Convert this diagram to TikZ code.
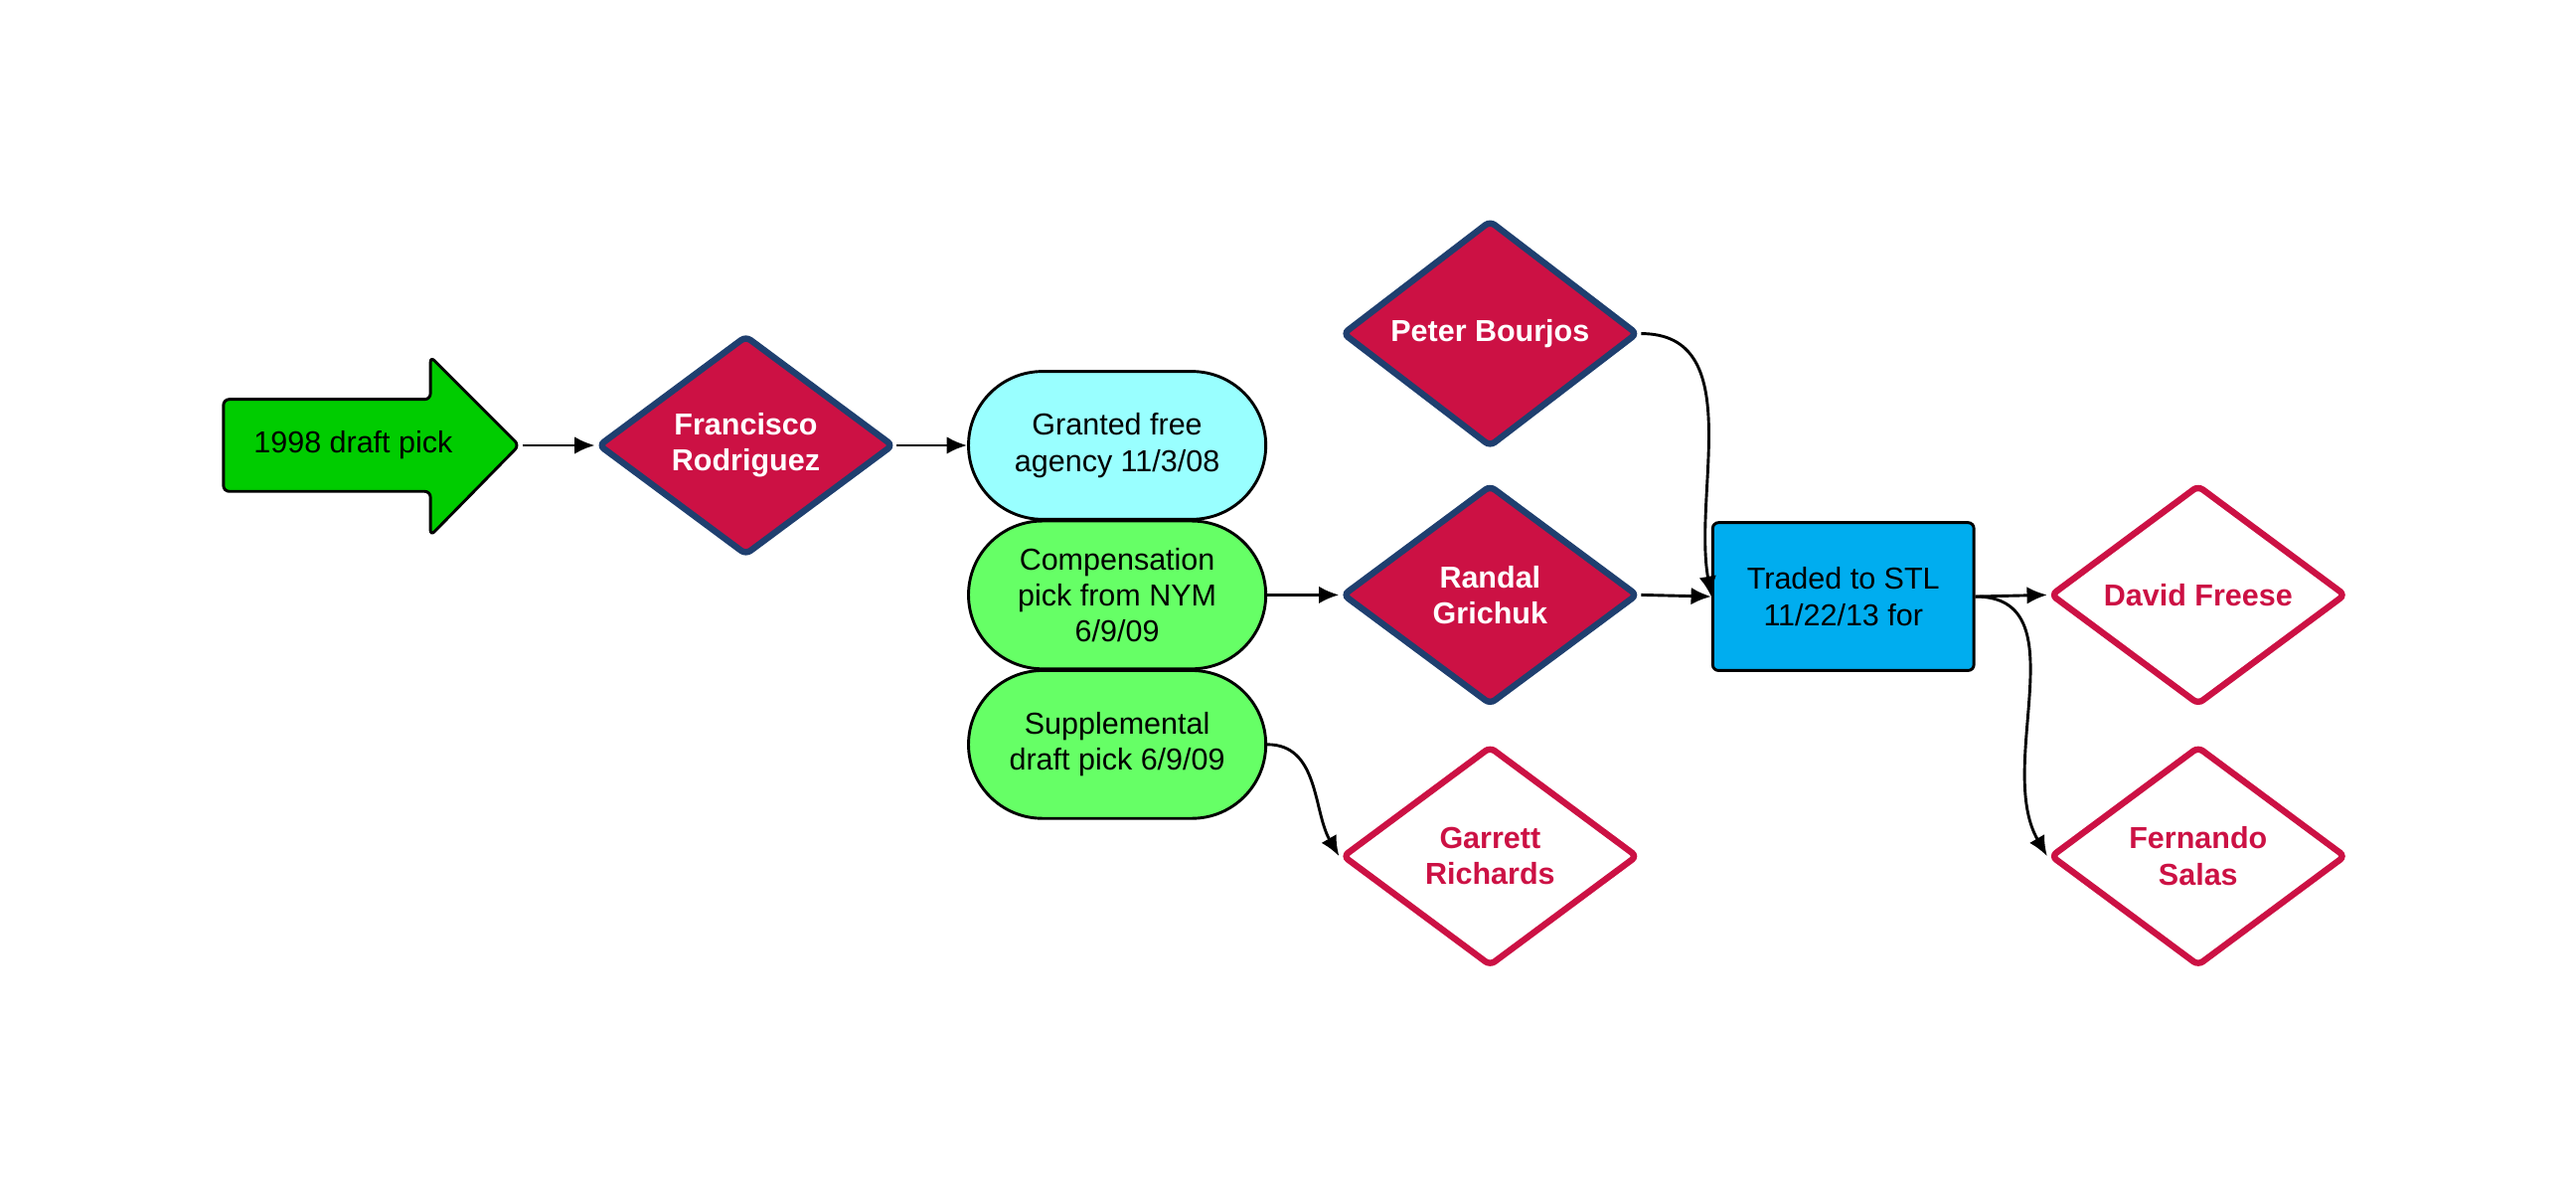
\documentclass[tikz,border=0pt]{standalone}
\usepackage{fontspec}
\setmainfont{Liberation Sans}
\usetikzlibrary{shapes.geometric,arrows.meta}
\definecolor{dred}{HTML}{CC1144}
\definecolor{dblue}{HTML}{1F3F6F}
\definecolor{lgreen}{HTML}{66FF66}
\definecolor{lcyan}{HTML}{99FFFF}
\definecolor{agreen}{HTML}{00CC00}
\begin{document}
\begin{tikzpicture}[x=0.02cm,y=-0.02cm,
  every node/.style={font=\fontsize{10.5}{12.5}\selectfont, align=center},
  dia/.style={diamond, minimum width=3.6cm, minimum height=2.68cm, inner sep=0pt, line width=2.2pt, rounded corners=2pt},
  fill dia/.style={dia, fill=dred, draw=dblue, text=white, font=\fontsize{10.5}{12.5}\selectfont\bfseries},
  open dia/.style={dia, fill=white, draw=dred, text=dred, font=\fontsize{10.5}{12.5}\selectfont\bfseries},
  pill/.style={rectangle, rounded corners=0.9cm, minimum width=3.62cm, minimum height=1.8cm, draw=black, line width=1pt},
  conn/.style={line width=1pt, -{Latex[length=7pt,width=6pt]}}]
\useasboundingbox (0,0) rectangle (1568,726);
\filldraw[fill=agreen, draw=black, line width=1pt, rounded corners=2pt]
  (136,243) -- (262,243) -- (262,217) -- (316,271) -- (262,326) -- (262,299) -- (136,299) -- cycle;
\node (pick) at (215,271) {1998 draft pick};
\coordinate (tip) at (318,271);
\node[fill dia] (fr) at (454,271) {Francisco\\Rodriguez};
\node[pill, fill=lcyan] (gfa) at (680,271) {Granted free\\agency 11/3/08};
\node[pill, fill=lgreen] (comp) at (680,362) {Compensation\\pick from NYM\\6/9/09};
\node[pill, fill=lgreen] (supp) at (680,453) {Supplemental\\draft pick 6/9/09};
\node[fill dia] (pb) at (907,203) {Peter Bourjos};
\node[fill dia] (rg) at (907,362) {Randal\\Grichuk};
\node[open dia] (gr) at (907,521) {Garrett\\Richards};
\node[rectangle, rounded corners=2pt, fill=cyan, draw=black, line width=1pt, minimum width=3.18cm, minimum height=1.8cm] (stl) at (1122,363) {Traded to STL\\11/22/13 for};
\node[open dia] (df) at (1338,362) {David Freese};
\node[open dia] (fs) at (1338,521) {Fernando\\Salas};
\draw[conn] (tip) -- (fr.west);
\draw[conn] (fr.east) -- (gfa.west);
\draw[conn] (comp.east) -- (rg.west);
\draw[conn] (rg.east) -- (stl.west);
\draw[conn] (pb.east) to[out=0,in=100] (stl.west);
\draw[conn] (supp.east) to[out=0,in=120] (gr.west);
\draw[conn] (stl.east) -- (df.west);
\draw[conn] (stl.east) to[out=0,in=120] (fs.west);
\end{tikzpicture}
\end{document}
